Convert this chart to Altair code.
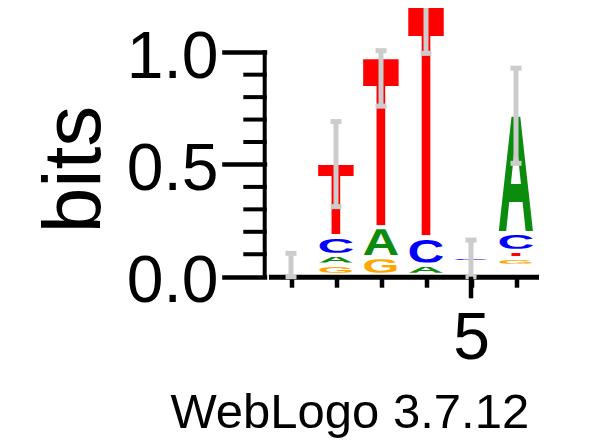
import base64
import altair as alt
import pandas as pd

# ---------------- data ----------------
positions = [1, 2, 3, 4, 5, 6]
err_lo = [0.0, 0.312, 0.76, 0.995, 0.0, 0.505]
err_hi = [0.104, 0.691, 1.007, 1.5, 0.163, 0.929]

# letters in each stack, bottom to top ("-" = sub-visible remainder, not drawn)
stack_pos = [2, 2, 2, 2, 3, 3, 3, 4, 4, 4, 5, 5, 6, 6, 6, 6, 6]
stack_letter = ["G", "A", "C", "T", "G", "A", "T", "A", "C", "T", "-", "C", "-", "G", "T", "C", "A"]
stack_height = [0.045, 0.044, 0.082, 0.327,
                0.078, 0.133, 0.758,
                0.045, 0.122, 1.079,
                0.062, 0.012,
                0.040, 0.034, 0.033, 0.079, 0.528]

y_major = [0.0, 0.5, 1.0]
y_minor = [0.1, 0.2, 0.3, 0.4, 0.6, 0.7, 0.8, 0.9]
x_labelled = [5]

letter_colors = {"A": "#0c8c0c", "C": "#0000ff", "G": "#ffa500", "T": "#ff0000"}


def letter_url(ch):
    svg = ('<svg xmlns="http://www.w3.org/2000/svg" width="100" height="100" '
           'viewBox="0 0 100 100" preserveAspectRatio="none">'
           '<text x="0" y="100" font-family="Liberation Sans, Arial, Helvetica, sans-serif" '
           'font-weight="bold" font-size="145" fill="%s" textLength="100" '
           'lengthAdjust="spacingAndGlyphs">%s</text></svg>') % (letter_colors[ch], ch)
    return "data:image/svg+xml;base64," + base64.b64encode(svg.encode()).decode()


stack = pd.DataFrame({"pos": stack_pos, "letter": stack_letter, "h": stack_height})
stack["top"] = stack.groupby("pos")["h"].cumsum()
stack["bottom"] = stack["top"] - stack["h"]
letters = stack[stack["letter"] != "-"].copy()
letters["url"] = letters["letter"].map(letter_url)

errs = pd.DataFrame({"pos": positions, "lo": err_lo, "hi": err_hi})

# ---------------- scales / axes ----------------
xscale = alt.Scale(domain=[0.5, 6.5], nice=False, zero=False)
yscale = alt.Scale(domain=[0, 1.197], nice=False, zero=False)
FONT = "Liberation Sans, Arial, Helvetica, sans-serif"

xaxis = alt.Axis(values=positions, grid=False, domain=True, domainColor="black", domainWidth=5,
                 ticks=True, tickSize=10.5, tickWidth=4.5, tickColor="black",
                 labelExpr="indexof(%s, datum.value) >= 0 ? format(datum.value, 'd') : ''" % str(x_labelled),
                 labelFont=FONT, labelFontSize=66, labelColor="black", labelPadding=19,
                 labelFlush=False, labelOverlap=False,
                 title="WebLogo 3.7.12", titleFont=FONT,
                 titleFontSize=49, titleFontWeight="normal", titleColor="black",
                 titleAlign="left", titleBaseline="alphabetic", titleX=-98.5, titleY=151)

yaxis = alt.Axis(values=y_major, format=".1f", grid=False, domain=False, offset=1.8,
                 ticks=True, tickSize=45, tickWidth=4.3, tickColor="black",
                 labelFont=FONT, labelFontSize=66, labelColor="black", labelPadding=3.7,
                 labelOffset=5, labelOverlap=False,
                 title="bits", titleFont=FONT, titleFontSize=82, titleFontWeight="normal",
                 titleColor="black", titleAngle=270, titleAlign="center",
                 titleBaseline="alphabetic", titleX=-167.7, titleY=161)

GREY = "#cccccc"


def X(field):
    return alt.X(field, scale=xscale, axis=xaxis)


def Y(field):
    return alt.Y(field, scale=yscale, axis=yaxis)


letter_layer = alt.Chart(letters).mark_image(
    aspect=False, xOffset=-18.4, x2Offset=18.4, y2Offset=-4
).encode(x=X("pos:Q"), x2="pos:Q", y=Y("top:Q"), y2="bottom:Q", url="url:N")

stems = alt.Chart(errs).mark_rule(color=GREY, strokeWidth=5).encode(
    x=X("pos:Q"), y=Y("lo:Q"), y2="hi:Q")
caps_lo = alt.Chart(errs).mark_tick(color=GREY, orient="horizontal", size=11, thickness=5, opacity=1).encode(
    x=X("pos:Q"), y=Y("lo:Q"))
caps_hi = alt.Chart(errs).mark_tick(color=GREY, orient="horizontal", size=11, thickness=5, opacity=1).encode(
    x=X("pos:Q"), y=Y("hi:Q"))

yline = alt.Chart(pd.DataFrame({"a": [min(y_major)], "b": [max(y_major)]})).mark_rule(
    color="black", strokeWidth=4, strokeCap="square"
).encode(x=alt.value(-3.8), y=Y("a:Q"), y2="b:Q")
minor = alt.Chart(pd.DataFrame({"v": y_minor})).mark_rule(color="black", strokeWidth=4).encode(
    x=alt.value(-25.2), x2=alt.value(-1.8), y=Y("v:Q"))
long_tick = alt.Chart(pd.DataFrame({"v": x_labelled})).mark_rule(color="black", strokeWidth=4.5).encode(
    x=X("v:Q"), y=alt.value(268.7), y2=alt.value(290.3))

chart = alt.layer(letter_layer, stems, caps_lo, caps_hi, yline, minor, long_tick).properties(
    width=270, height=268.7,
    autosize=alt.AutoSizeParams(type="none"),
    padding={"left": 260.5, "top": 0, "right": 42.5, "bottom": 162.3},
    background="white",
).configure_view(stroke=None)

chart.save("out.html", embed_options={"renderer": "svg", "actions": False})
